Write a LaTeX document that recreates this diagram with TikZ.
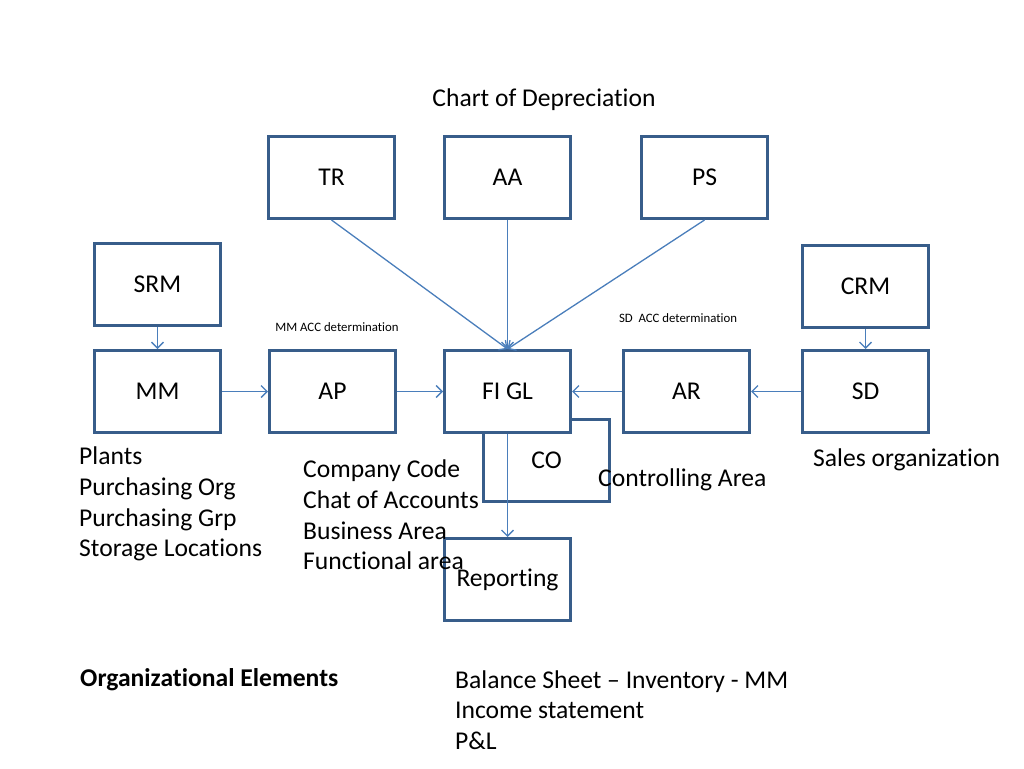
\documentclass[tikz,border=0pt]{standalone}
\usepackage{fontspec}
\setmainfont{Carlito}[Ligatures={TeX,NoCommon}]
\usetikzlibrary{arrows.meta}
\usetikzlibrary{positioning}
\definecolor{boxblue}{HTML}{385D8A}
\definecolor{lineblue}{HTML}{4A7EBB}

\begin{document}
\begin{tikzpicture}[
    x=1pt, y=-1pt,
    box/.style={
        rectangle,
        draw=boxblue,
        line width=3pt,
        fill=white,
        minimum width=126pt,
        minimum height=82pt,
        font=\fontsize{25.6}{30.7}\selectfont
    },
    note/.style={
        inner sep=0pt,
        align=left,
        font=\fontsize{25.6}{30.7}\selectfont
    },
    small/.style={
        inner sep=0pt,
        font=\fontsize{12.8}{15}\selectfont
    },
    link/.style={
        -{Straight Barb[length=6pt, width=12pt]},
        draw=lineblue,
        line width=1.3pt
    }
]
    \useasboundingbox (0,0) rectangle (1024,768);

    % Boxes
    \node (co) [box] at (546.5,460.5) {CO};
    \node (figl) [box] at (507.5,391.5) {FI GL};
    \node (ap) [box, left=46pt of figl] {AP};
    \node (mm) [box, left=46pt of ap] {MM};
    \node (srm) [box, above=22pt of mm] {SRM};
    \node (ar) [box, right=50pt of figl] {AR};
    \node (sd) [box, right=50pt of ar] {SD};
    \node (crm) [box, above=20pt of sd] {CRM};
    \node (aa) [box, above=129pt of figl] {AA};
    \node (tr) [box, left=47pt of aa] {TR};
    \node (ps) [box, right=68pt of aa] {PS};
    \node (rep) [box, below=103pt of figl] {Reporting};

    % Connectors
    \draw [link] (srm) -- (mm);
    \draw [link] (mm) -- (ap);
    \draw [link] (ap) -- (figl);
    \draw [link] (crm) -- (sd);
    \draw [link] (sd) -- (ar);
    \draw [link] (ar) -- (figl);
    \draw [link] (tr.south) -- (figl.north);
    \draw [link] (aa) -- (figl);
    \draw [link] (ps.south) -- (figl.north);
    \draw [link] (figl) -- (rep);

    % Texts
    \node (title) [note] at (544,100) {Chart of Depreciation};
    \node (mmacc) [small] at (337,327) {MM ACC determination};
    \node (sdacc) [small] at (678,318) {SD\ \ ACC determination};
    \node (mmorg) [note, anchor=west] at (79,504) {Plants\\Purchasing Org\\Purchasing Grp\\Storage Locations};
    \node (fiorg) [note, anchor=west] at (303,515) {Company Code\\Chat of Accounts\\Business Area\\Functional area};
    \node (coorg) [note, anchor=west] at (598,480) {Controlling Area};
    \node (sdorg) [note, anchor=west] at (813,460) {Sales organization};
    \node (orgel) [note, anchor=west, font=\fontsize{25.6}{30.7}\selectfont\bfseries] at (80,680) {Organizational Elements};
    \node (stmts) [note, anchor=west] at (455,710) {Balance Sheet -- Inventory - MM\\Income statement\\P\&L};
\end{tikzpicture}
\end{document}
